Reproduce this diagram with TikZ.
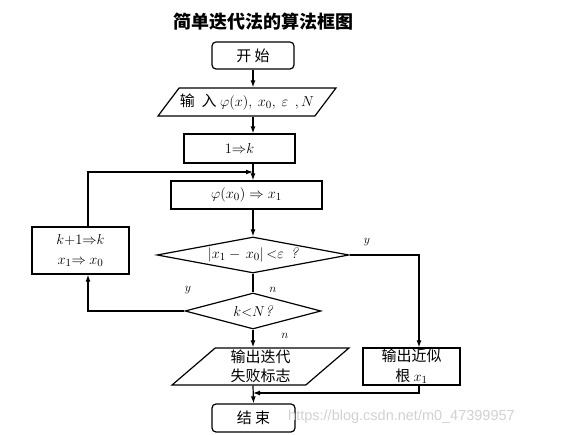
\documentclass[tikz,border=0pt]{standalone}
\usepackage{amsmath}
\usepackage{amssymb}
\usepackage{fontspec}
\usepackage{tikz}
\usetikzlibrary{shapes.geometric,arrows.meta}
\newfontfamily\cjk{Noto Sans CJK SC}
\newfontfamily\wmfont{Liberation Sans}
\newcommand{\qmark}{{\normalfont\itshape ?}}

\begin{document}
\begin{tikzpicture}[x=1pt,y=-1pt,line width=1.2pt,
  box/.style={draw,rectangle,inner sep=0pt,align=center,font=\cjk\fontsize{15}{20}\selectfont},
  term/.style={box,rounded corners=4pt},
  io/.style={draw,trapezium,trapezium stretches=true,inner sep=0pt,align=center,font=\cjk\fontsize{15}{19}\selectfont},
  cond/.style={draw,diamond,inner sep=0pt,font=\cjk\fontsize{15}{18}\selectfont},
  arr/.style={-{Latex[length=7pt,width=5pt]}},
  lbl/.style={font=\fontsize{13}{15}\selectfont}]
\useasboundingbox (0,0) rectangle (574,435);

\node (title) at (263,22) {\cjk\bfseries\fontsize{18}{20}\selectfont 简单迭代法的算法框图};

\node[term,minimum width=82pt,minimum height=27pt] (start) at (253,55.5) {开\ 始};
\node[io,minimum width=178pt,minimum height=28pt,trapezium left angle=38,trapezium right angle=142] (inp) at (247,102)
  {输\ \ 入\ $\varphi(x),\ x_0,\ \varepsilon\ \ ,N$};
\node[box,minimum width=111pt,minimum height=29pt] (init) at (239.5,148.5) {$1{\Rightarrow}k$};
\node[box,minimum width=151pt,minimum height=28pt] (iter) at (246.5,195) {$\varphi(x_0)\Rightarrow x_1$};
\node[cond,minimum width=192pt,minimum height=36pt,aspect=5.3] (test) at (253,255) {$|x_1-\,x_0|\,{<}\varepsilon$\ \ \qmark};
\node[box,minimum width=97pt,minimum height=47pt] (upd) at (80.5,250.5) {$k{+}1{\Rightarrow}k$\\$x_1{\Rightarrow}\ x_0$};
\node[cond,minimum width=136pt,minimum height=36pt,aspect=3.8] (cnt) at (253,311) {$k{<}N$\qmark};
\node[io,minimum width=177pt,minimum height=37pt,trapezium left angle=49,trapezium right angle=131] (fail) at (260.5,366.5)
  {输出迭代\\失败标志};
\node[box,minimum width=97pt,minimum height=37pt] (root) at (411.5,366.5) {输出近似\\根 $x_1$};
\node[term,minimum width=83pt,minimum height=28pt] (stop) at (253.5,418) {结\ 束};

\coordinate (j1) at (253,172);
\coordinate (j2) at (253,393);

\draw[arr] (start.south) -- (inp.north -| start);
\draw[arr] (inp.south -| start) -- (init.north -| start);
\draw[arr] (init.south -| start) -- (iter.north -| start);
\draw[arr] (iter.south -| start) -- (test.north);
\draw[arr] (test.east) -| ([xshift=7.5pt]root.north);
\draw (test.south) -- (cnt.north);
\draw[arr] (cnt.west) -| ([xshift=7.5pt]upd.south);
\draw[arr] ([xshift=7.5pt]upd.north) |- (j1);
\draw[arr] (cnt.south) -- (fail.north -| start);
\draw[arr] (fail.south -| start) -- (stop.north);
\draw[arr] ([xshift=7.5pt]root.south) |- (j2);

\node[lbl] (ly1) at (367,242) {$y$};
\node[lbl] (ln1) at (273,290) {$n$};
\node[lbl] (ly2) at (188,290) {$y$};
\node[lbl] (ln2) at (285,336) {$n$};

\node[text=black!18,font=\wmfont\fontsize{14.5}{16}\selectfont] (wm) at (401.5,417) {https://blog.csdn.net/m0\_47399957};
\end{tikzpicture}
\end{document}
